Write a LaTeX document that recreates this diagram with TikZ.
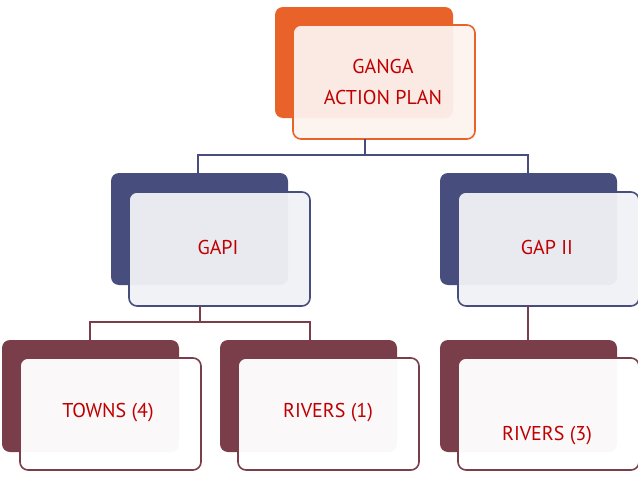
\documentclass[tikz,border=0pt]{standalone}
\usepackage{fontspec}
\setmainfont{PT Sans}
\begin{document}
\begin{tikzpicture}[x=1pt,y=-1pt,
 back/.style={rounded corners=8pt},
 front/.style={rounded corners=8pt,line width=1.6pt},
 lbl/.style={text=red!75!black,font=\fontsize{20}{31}\selectfont,align=center},
 conn/.style={line width=1.5pt}]
\definecolor{org}{HTML}{E8622A}\definecolor{nav}{HTML}{474E7E}\definecolor{mar}{HTML}{7A3D4A}
\useasboundingbox (0,0) rectangle (638,479);
% top
\fill[org,back] (275,7) rectangle (453,118);
\draw[front,draw=org,fill=org!8,fill opacity=0.95] (293,25) rectangle (475,139);
\node[lbl] (top) at (383,82) {GANGA\\ACTION PLAN};
% level 2
\foreach \x in {111,440}{
 \fill[nav,back] (\x,173) rectangle (\x+177,285);
 \draw[front,draw=nav,fill=nav!8,fill opacity=0.96] (\x+18,192) rectangle (\x+199,306);
}
\node[lbl] (gapi) at (218,247) {GAPI};
\node[lbl] (gapii) at (547,247) {GAP II};
% level 3
\foreach \x in {2,220,440}{
 \fill[mar,back] (\x,340) rectangle (\x+177,452);
 \draw[front,draw=mar,fill=white,fill opacity=0.97] (\x+18,358) rectangle (\x+199,470);
}
\node[lbl] (towns) at (108,413) {TOWNS (4)};
\node[lbl] (riv1) at (328,413) {RIVERS (1)};
\node[lbl] (riv3) at (547,436) {RIVERS (3)};
% connectors
\coordinate (t0) at (365,139); \coordinate (t1) at (365,155);
\coordinate (l1) at (198,155); \coordinate (l2) at (198,173);
\coordinate (r1) at (528,155); \coordinate (r2) at (528,173);
\draw[conn,nav] (t0)--(t1) (l2)--(l1)--(r1)--(r2);
\coordinate (g0) at (200,306); \coordinate (g1) at (200,322);
\coordinate (a1) at (90,322); \coordinate (a2) at (90,340);
\coordinate (b1) at (310,322); \coordinate (b2) at (310,340);
\draw[conn,mar] (g0)--(g1) (a2)--(a1)--(b1)--(b2);
\coordinate (h0) at (528,306); \coordinate (h1) at (528,340);
\draw[conn,mar] (h0)--(h1);
\end{tikzpicture}
\end{document}
